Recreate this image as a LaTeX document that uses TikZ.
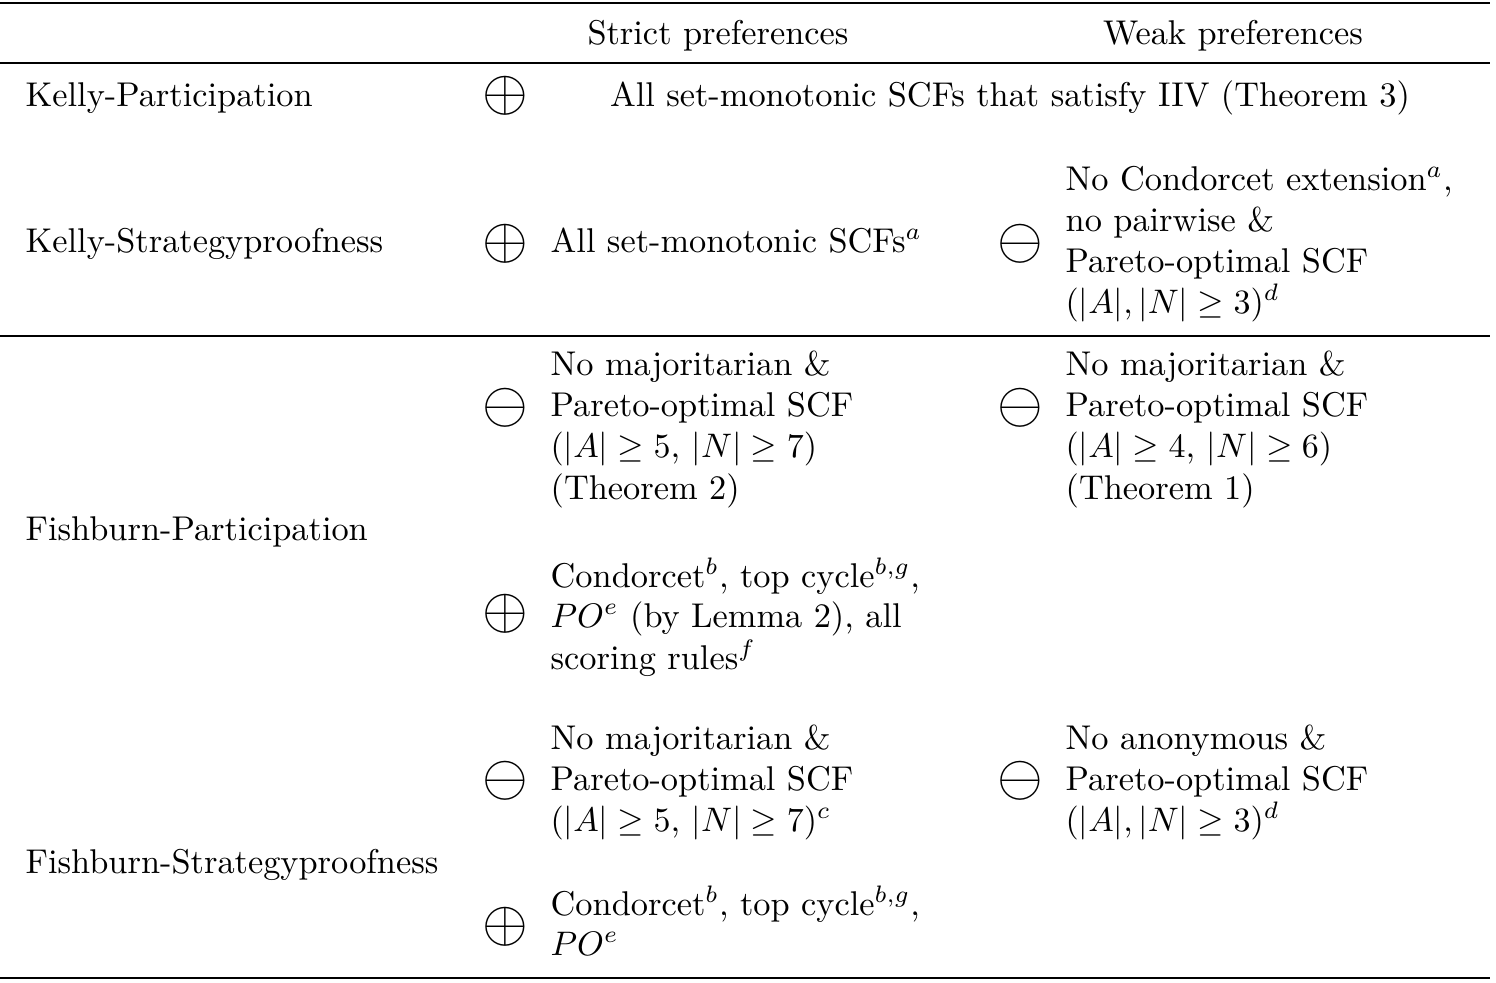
\documentclass[tikz,border=0pt]{standalone}
\begin{document}
\begin{tikzpicture}[x=0.294pt,y=-0.294pt,
 t/.style={anchor=base west,inner sep=0pt,font=\fontsize{10.1}{12}\selectfont},
 c/.style={anchor=base,inner sep=0pt,font=\fontsize{10.1}{12}\selectfont},
 sym/.style={inner sep=0pt,font=\fontsize{19}{22}\selectfont}]
\useasboundingbox (0,0) rectangle (1496,982);
\draw[line width=0.8pt] (0,3) -- (1490,3);
\draw[line width=0.5pt] (0,63) -- (1490,63);
\draw[line width=0.5pt] (0,336) -- (1490,336);
\draw[line width=0.8pt] (0,978) -- (1490,978);
\node[c] (h1) at (718,44) {Strict preferences};
\node[c] (h2) at (1233,44) {Weak preferences};
% row 1
\node[t] (r1) at (25,106) {Kelly-Participation};
\node[sym] (s1) at (505,96) {$\oplus$};
\node[c] (r1t) at (1010,106) {All set-monotonic SCFs that satisfy IIV (Theorem 3)};
% row 2
\node[t] (r2) at (25,252) {Kelly-Strategyproofness};
\node[sym] (s2) at (505,244) {$\oplus$};
\node[t] (r2a) at (550,252) {All set-monotonic SCFs$^a$};
\node[sym] (s3) at (1020,244) {$\ominus$};
\node[t] (r2b1) at (1065,190) {No Condorcet extension$^a$,};
\node[t] (r2b2) at (1065,231) {no pairwise \&};
\node[t] (r2b3) at (1065,272) {Pareto-optimal SCF};
\node[t] (r2b4) at (1065,313) {$(|A|,|N|\geq 3)^d$};
% row 3
\node[t] (r3) at (25,540) {Fishburn-Participation};
\node[sym] (s4) at (505,408) {$\ominus$};
\node[t] (r3a1) at (550,375) {No majoritarian \&};
\node[t] (r3a2) at (550,416) {Pareto-optimal SCF};
\node[t] (r3a3) at (550,457) {$(|A|\geq 5$, $|N|\geq 7)$};
\node[t] (r3a4) at (550,499) {(Theorem 2)};
\node[sym] (s5) at (1020,408) {$\ominus$};
\node[t] (r3b1) at (1065,375) {No majoritarian \&};
\node[t] (r3b2) at (1065,416) {Pareto-optimal SCF};
\node[t] (r3b3) at (1065,457) {$(|A|\geq 4$, $|N|\geq 6)$};
\node[t] (r3b4) at (1065,499) {(Theorem 1)};
\node[sym] (s6) at (505,614) {$\oplus$};
\node[t] (r3c1) at (550,587) {Condorcet$^b$, top cycle$^{b,g}$,};
\node[t] (r3c2) at (550,627) {$PO^e$ (by Lemma 2), all};
\node[t] (r3c3) at (550,669) {scoring rules$^f$};
% row 4
\node[t] (r4) at (25,873) {Fishburn-Strategyproofness};
\node[sym] (s7) at (505,781) {$\ominus$};
\node[t] (r4a1) at (550,749) {No majoritarian \&};
\node[t] (r4a2) at (550,790) {Pareto-optimal SCF};
\node[t] (r4a3) at (550,831) {$(|A|\geq 5$, $|N|\geq 7)^c$};
\node[sym] (s8) at (1020,781) {$\ominus$};
\node[t] (r4b1) at (1065,749) {No anonymous \&};
\node[t] (r4b2) at (1065,790) {Pareto-optimal SCF};
\node[t] (r4b3) at (1065,831) {$(|A|,|N|\geq 3)^d$};
\node[sym] (s9) at (505,927) {$\oplus$};
\node[t] (r4c1) at (550,915) {Condorcet$^b$, top cycle$^{b,g}$,};
\node[t] (r4c2) at (550,955) {$PO^e$};
\end{tikzpicture}
\end{document}
